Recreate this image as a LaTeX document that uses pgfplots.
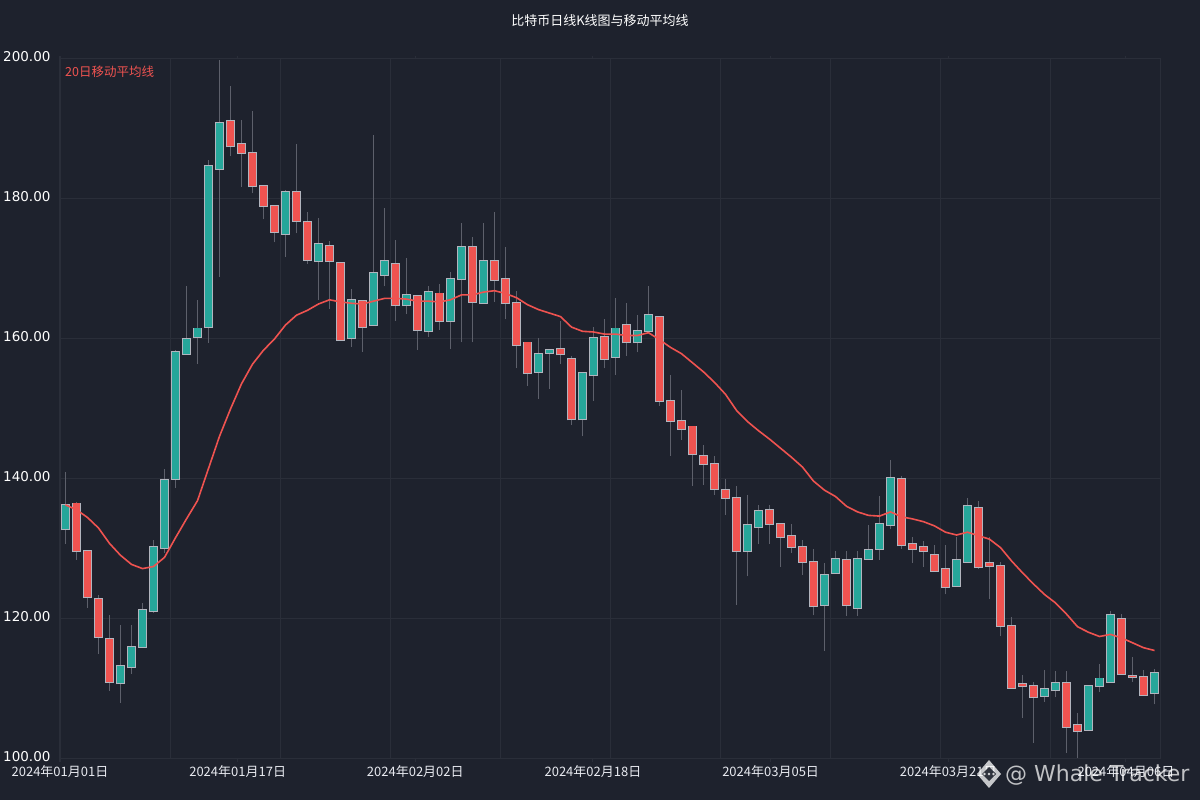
\documentclass[border=0pt]{standalone}
\usepackage{pgfplots}
\pgfplotsset{compat=1.18}
\usepackage{pgfplotstable}
\usepackage{fontspec}
\setmainfont{DejaVu Sans}
\newfontfamily\cjk{Noto Sans CJK SC}
\definecolor{bg}{HTML}{1E222D}
\definecolor{gridc}{HTML}{2A2E39}
\definecolor{upc}{HTML}{26A69A}
\definecolor{downc}{HTML}{EF5350}
\definecolor{wickc}{HTML}{5D606B}
\definecolor{borderc}{HTML}{B2B5BE}
\definecolor{labelc}{HTML}{E8EAF0}

\pgfplotstableread{
i O H L C
0 132.8 141.0 130.7 136.3
5 110.8 119.1 108.0 113.3
6 113.1 119.1 112.2 116.0
7 116.0 122.3 115.9 121.3
8 121.2 131.3 120.9 130.3
9 130.1 141.4 129.4 139.8
10 140.0 158.4 138.7 158.1
11 157.9 167.6 157.8 160.0
12 160.3 165.6 156.4 161.5
13 161.7 185.5 159.4 184.7
14 184.3 199.9 168.9 190.8
20 175.0 181.3 171.7 181.0
23 171.1 177.3 165.6 173.6
26 160.1 167.1 158.9 165.6
28 162.0 189.2 161.9 169.4
29 169.2 178.7 167.5 171.1
31 164.8 171.5 163.6 166.3
33 161.1 167.6 160.3 166.7
35 162.6 169.6 158.6 168.6
36 168.6 176.6 159.5 173.1
38 165.1 176.6 165.0 171.1
43 155.3 160.1 151.4 157.8
44 158.0 158.5 152.9 158.4
47 148.5 155.2 146.1 155.1
48 154.9 161.7 151.2 160.1
50 157.4 165.9 154.9 161.5
52 159.5 163.4 158.1 161.1
53 161.1 167.5 161.0 163.4
62 129.7 137.7 126.1 133.4
63 133.2 136.3 130.7 135.4
69 122.0 128.0 115.4 126.3
70 126.6 129.7 126.5 128.6
72 121.6 129.7 120.4 128.6
73 128.6 133.4 128.5 129.9
74 130.0 137.5 128.4 133.6
75 133.4 142.7 132.8 140.2
81 124.7 131.7 124.6 128.4
82 128.2 137.3 128.1 136.1
89 109.0 112.7 108.2 110.0
90 109.8 112.5 108.8 110.9
93 104.2 110.5 104.2 110.4
94 110.4 113.5 109.6 111.5
95 111.0 121.1 110.9 120.6
99 109.4 112.9 107.8 112.3
}\updata

\pgfplotstableread{
i O H L C
1 136.5 136.7 128.4 129.7
2 129.7 129.8 121.6 123.1
3 122.8 123.4 115.0 117.4
4 117.2 120.5 109.7 111.0
15 191.2 196.1 186.1 187.5
16 187.8 191.3 181.7 186.6
17 186.6 192.6 180.8 181.8
18 181.8 182.0 177.1 179.0
19 179.0 179.0 173.8 175.3
21 181.0 187.8 175.1 176.9
22 176.7 178.1 170.7 171.3
24 173.3 174.0 164.3 171.1
25 170.9 170.9 159.7 159.9
27 165.4 165.5 158.2 161.7
30 170.7 174.2 162.6 164.8
32 166.1 166.1 158.4 161.3
34 166.5 167.9 161.3 162.6
37 173.1 174.6 159.5 165.3
39 171.1 178.1 165.3 168.4
40 168.6 173.1 162.8 165.1
41 165.1 166.9 155.8 159.2
42 159.5 159.5 153.3 155.1
45 158.6 162.6 156.4 157.8
46 157.2 157.6 147.7 148.5
49 160.3 162.8 155.8 157.2
51 162.0 165.1 157.6 159.5
54 163.2 163.3 150.4 151.2
55 151.2 154.9 143.3 148.3
56 148.3 152.7 145.6 147.2
57 147.5 147.5 139.0 143.5
58 143.3 144.8 139.2 142.1
59 142.1 143.3 137.7 138.6
60 138.4 140.0 134.9 137.3
61 137.3 139.0 122.0 129.7
64 135.6 136.3 130.7 133.6
65 133.6 133.6 127.4 131.7
66 131.9 133.6 129.4 130.3
67 130.3 131.3 126.3 128.2
68 128.2 130.0 120.5 121.8
71 128.4 129.7 120.4 122.0
76 140.0 140.4 130.0 130.5
77 130.7 131.7 128.0 130.0
78 130.3 131.1 127.4 129.7
79 129.2 130.5 126.9 126.9
80 127.2 130.5 123.5 124.5
83 135.9 136.9 127.2 127.4
84 128.0 131.7 122.8 127.6
85 127.6 128.2 117.5 119.0
86 119.0 120.3 110.1 110.2
87 110.7 112.0 105.9 110.4
88 110.4 111.0 102.3 108.8
91 110.9 112.5 100.9 104.6
92 104.9 106.5 100.2 104.0
96 120.0 120.7 112.0 112.1
97 111.9 114.6 111.0 111.7
98 111.7 112.7 109.1 109.1
}\downdata

\pgfplotstableread{
i m
0 136.3
1 135.6
2 134.5
3 133.0
4 130.8
5 129.1
6 127.8
7 127.2
8 127.5
9 128.8
10 131.6
11 134.3
12 136.9
13 141.5
14 146.1
15 150.0
16 153.6
17 156.4
18 158.4
19 160.0
20 162.0
21 163.4
22 164.1
23 165.0
24 165.6
25 165.3
26 165.1
27 165.0
28 165.4
29 165.8
30 165.8
31 165.7
32 165.4
33 165.4
34 165.3
35 165.6
36 166.3
37 166.3
38 166.7
39 166.9
40 166.5
41 165.9
42 164.9
43 164.2
44 163.7
45 163.2
46 161.7
47 161.1
48 161.0
49 160.7
50 160.7
51 160.5
52 160.5
53 160.9
54 159.9
55 158.8
56 157.9
57 156.6
58 155.3
59 153.8
60 152.1
61 149.8
62 148.2
63 146.9
64 145.7
65 144.4
66 143.1
67 141.7
68 139.7
69 138.4
70 137.5
71 136.1
72 135.3
73 134.8
74 134.7
75 135.3
76 134.6
77 134.3
78 133.9
79 133.3
80 132.4
81 132.0
82 132.4
83 131.9
84 131.4
85 130.2
86 128.3
87 126.6
88 125.0
89 123.5
90 122.3
91 120.7
92 118.9
93 118.1
94 117.5
95 117.8
96 117.3
97 116.6
98 115.9
99 115.5
}\madata

\begin{document}
\begin{tikzpicture}[x=1pt,y=1pt]
\path[use as bounding box] (0,0) rectangle (1200,800);
\fill[bg] (0,0) rectangle (1200,800);
\begin{axis}[
  at={(60pt,41pt)}, anchor=south west,
  width=1100pt, height=700pt, scale only axis,
  xmin=-0.5, xmax=99.5, ymin=100, ymax=200,
  axis line style={draw=gridc, line width=1pt},
  ytick={100,120,140,160,180,200},
  yticklabels={100.00,120.00,140.00,160.00,180.00,200.00},
  ymajorgrids,
  grid style={draw=gridc, line width=1pt},
  ytick style={draw=none},
  yticklabel style={font=\fontsize{13.5}{13.5}\selectfont, text=white, xshift=-3pt, yshift=2pt},
  xtick={-0.5,15.65,31.8,47.95,64.1,80.25,96.4},
  xticklabels={2024年01月01日,2024年01月17日,2024年02月02日,2024年02月18日,2024年03月05日,2024年03月21日,2024年04月06日},
  xticklabel style={font=\cjk\fontsize{13}{13}\selectfont, text=labelc},
  xtick style={draw=gridc, line width=1pt},
  tick align=outside, major tick length=3pt,
  extra x ticks={9.5,19.5,29.5,39.5,49.5,59.5,69.5,79.5,89.5},
  extra x tick labels={},
  extra x tick style={grid=major, major tick length=0pt},
]
% wicks
\addplot[forget plot, draw=none, mark=none,
  error bars/.cd, y dir=plus, y explicit, error mark=none,
  error bar style={draw=wickc, line width=1pt}]
  table[x=i, y=L, y error plus expr=\thisrow{H}-\thisrow{L}] {\updata};
\addplot[forget plot, draw=none, mark=none,
  error bars/.cd, y dir=plus, y explicit, error mark=none,
  error bar style={draw=wickc, line width=1pt}]
  table[x=i, y=L, y error plus expr=\thisrow{H}-\thisrow{L}] {\downdata};
% body borders
\addplot[forget plot, draw=none, mark=none,
  error bars/.cd, y dir=plus, y explicit, error mark=none,
  error bar style={draw=borderc, line width=9.6pt}]
  table[x=i, y expr={min(\thisrow{O},\thisrow{C})-0.13}, y error plus expr={abs(\thisrow{C}-\thisrow{O})+0.26}] {\updata};
\addplot[forget plot, draw=none, mark=none,
  error bars/.cd, y dir=plus, y explicit, error mark=none,
  error bar style={draw=borderc, line width=9.6pt}]
  table[x=i, y expr={min(\thisrow{O},\thisrow{C})-0.13}, y error plus expr={abs(\thisrow{C}-\thisrow{O})+0.26}] {\downdata};
% body fills
\addplot[forget plot, draw=none, mark=none,
  error bars/.cd, y dir=plus, y explicit, error mark=none,
  error bar style={draw=upc, line width=7.6pt}]
  table[x=i, y expr={min(\thisrow{O},\thisrow{C})}, y error plus expr={abs(\thisrow{C}-\thisrow{O})}] {\updata};
\addplot[forget plot, draw=none, mark=none,
  error bars/.cd, y dir=plus, y explicit, error mark=none,
  error bar style={draw=downc, line width=7.6pt}]
  table[x=i, y expr={min(\thisrow{O},\thisrow{C})}, y error plus expr={abs(\thisrow{C}-\thisrow{O})}] {\downdata};
% moving average
\addplot[downc, line width=1.6pt, mark=none] table[x=i, y=m] {\madata};
\end{axis}
\node[text=white, font=\cjk\fontsize{13}{13}\selectfont] at (600,779) {比特币日线K线图与移动平均线};
\node[anchor=west, inner sep=0pt, text=downc, font=\cjk\fontsize{12.5}{12.5}\selectfont] at (65,728) {20日移动平均线};
% watermark
\fill[white, opacity=0.75] (989,40) -- (1001,26) -- (989,12) -- (977,26) -- cycle;
\fill[bg, opacity=0.9] (989,33) -- (996,26) -- (989,19) -- (982,26) -- cycle;
\fill[white, opacity=0.8] (984.5,26) circle (1.4) (989,26) circle (1.4) (993.5,26) circle (1.4);
\node[anchor=base west, inner sep=0pt, text=white, opacity=0.72, font=\fontsize{22}{22}\selectfont] at (1005,18) {@ Whale Tracker};
\end{tikzpicture}
\end{document}
